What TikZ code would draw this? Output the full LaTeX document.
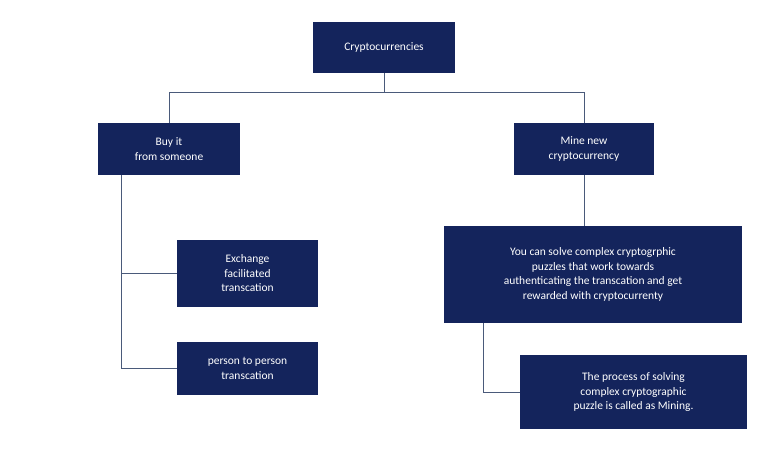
\documentclass[tikz,border=0pt]{standalone}
\usepackage{fontspec}
\setmainfont{Carlito}
\definecolor{navy}{HTML}{14245C}
\definecolor{ln}{HTML}{4A5A7A}
\begin{document}
\begin{tikzpicture}[x=1pt,y=-1pt,
 box/.style={fill=navy,text=white,align=center,font=\fontsize{11.5}{14.5}\selectfont,inner sep=0pt},
 con/.style={draw=ln,line width=0.7pt}]
\useasboundingbox (0,0) rectangle (768,461);
\def\bx#1#2#3#4#5#6{\node[box,minimum width=#4-#2,minimum height=#5-#3] (#1) at ({(#2+#4)/2},{(#3+#5)/2}) {#6};}
\bx{c}{313}{22}{455}{73}{Cryptocurrencies}
\bx{b}{98}{123}{240}{175}{Buy it\\from someone}
\bx{m}{514}{123}{654}{175}{Mine new\\cryptocurrency}
\bx{e}{177}{240}{318}{307}{Exchange\\facilitated\\transcation}
\bx{p}{177}{342}{318}{395}{person to person\\transcation}
\bx{y}{444}{226}{742}{323}{You can solve complex cryptogrphic\\puzzles that work towards\\authenticating the transcation and get\\rewarded with cryptocurrenty}
\bx{t}{520}{355}{747}{429}{The process of solving\\complex cryptographic\\puzzle is called as Mining.}
\coordinate (j) at (384,92);
\draw[con] (c.south) -- (j) -| (b.north);
\draw[con] (j) -| (m.north);
\draw[con] (b.south -| 121,0) |- (e.west);
\draw[con] (121,250) |- (p.west);
\draw[con] (m.south -| 584,0) -- (y.north -| 584,0);
\draw[con] (y.south -| 483,0) |- (t.west);
\end{tikzpicture}
\end{document}
